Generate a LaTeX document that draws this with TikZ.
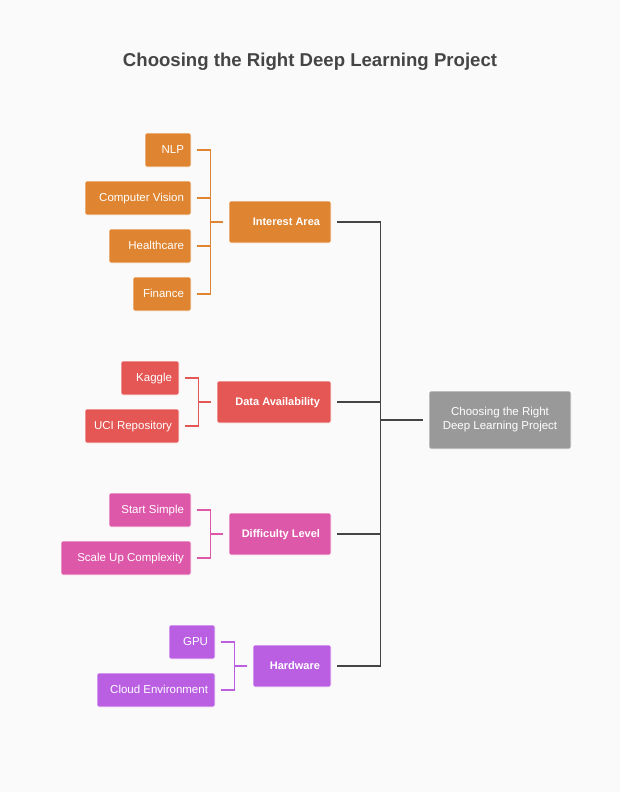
\documentclass[tikz,border=0pt]{standalone}
\usepackage{fontspec}
\setmainfont{Liberation Sans}
\usetikzlibrary{calc}
\definecolor{bg}{HTML}{FAFAFA}
\definecolor{corange}{HTML}{DF8430}
\definecolor{cred}{HTML}{E45754}
\definecolor{cpink}{HTML}{DE58AA}
\definecolor{cpurple}{HTML}{BA5FE2}
\definecolor{cgray}{HTML}{999999}
\definecolor{cline}{HTML}{444444}
\definecolor{ctitle}{HTML}{454545}
\tikzset{
  box/.style={rectangle, rounded corners=2pt, text=white, inner ysep=0pt, minimum height=34pt, draw=white, line width=0.6pt, text depth=2pt, text height=9pt},
  leaf/.style={box, inner xsep=7pt, font=\fontsize{11.5}{14}\selectfont},
  cat/.style={box, inner xsep=11pt, minimum height=42pt, font=\fontsize{11}{14}\selectfont\bfseries},
  bracket/.style={line width=1.5pt},
  trunk/.style={line width=1.6pt, draw=cline},
}
\newcommand{\leafbox}[6]{% name, color, cx, cy, width, text
  \node[leaf, fill=#2] (#1) at (#3,#4) {\makebox[\dimexpr#5pt-14pt\relax][r]{#6}};}
\newcommand{\catbox}[6]{%
  \node[cat, fill=#2] (#1) at (#3,#4) {\makebox[\dimexpr#5pt-22pt\relax][r]{#6}};}
\begin{document}
\begin{tikzpicture}[x=1pt, y=-1pt]
\fill[bg] (0,0) rectangle (620,792);
\useasboundingbox (0,0) rectangle (620,792);
\node[font=\fontsize{18.6}{22}\selectfont\bfseries, text=ctitle] (title) at (310,62) {Choosing the Right Deep Learning Project};

% Interest Area
\leafbox{nlp}{corange}{168}{150}{46}{NLP}
\leafbox{cv}{corange}{138}{198}{106}{Computer Vision}
\leafbox{hc}{corange}{150}{246}{82}{Healthcare}
\leafbox{fin}{corange}{162}{294}{58}{Finance}
\catbox{ia}{corange}{280}{222}{102}{Interest Area}

% Data Availability
\leafbox{kag}{cred}{150}{378}{58}{Kaggle}
\leafbox{uci}{cred}{132}{426}{94}{UCI Repository}
\catbox{da}{cred}{274}{402}{114}{Data Availability}

% Difficulty Level
\leafbox{ss}{cpink}{150}{510}{82}{Start Simple}
\leafbox{su}{cpink}{126}{558}{130}{Scale Up Complexity}
\catbox{dl}{cpink}{280}{534}{102}{Difficulty Level}

% Hardware
\leafbox{gpu}{cpurple}{192}{642}{46}{GPU}
\leafbox{cloud}{cpurple}{156}{690}{118}{Cloud Environment}
\catbox{hw}{cpurple}{292}{666}{78}{Hardware}

% Root
\node[rectangle, rounded corners=2pt, fill=cgray, draw=white, line width=0.6pt, text=white, minimum width=142pt, minimum height=58pt, align=center, font=\fontsize{11.5}{14}\selectfont] (root) at (500,420) {Choosing the Right\\Deep Learning Project};

% Brackets
\foreach \l/\c/\col in {nlp/ia/corange, cv/ia/corange, hc/ia/corange, fin/ia/corange,
  kag/da/cred, uci/da/cred, ss/dl/cpink, su/dl/cpink, gpu/hw/cpurple, cloud/hw/cpurple}{
  \draw[bracket, draw=\col] ([xshift=6pt]\l.east) -- ++(13,0) |- ([xshift=-6pt]\c.west);
}

% Trunk
\foreach \c in {ia,da,dl,hw}{
  \draw[trunk] ([xshift=6pt]\c.east) -- ++(43,0) |- ([xshift=-6pt]root.west);
}
\end{tikzpicture}
\end{document}
